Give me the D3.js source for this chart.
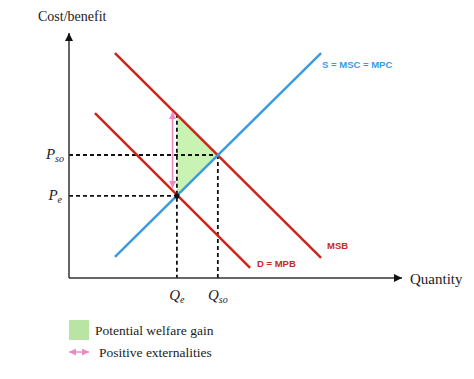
<!DOCTYPE html>
<html>
<head>
<meta charset="utf-8">
<script src="https://cdn.jsdelivr.net/npm/d3@7"></script>
<style>
  html, body { margin: 0; padding: 0; background: #fff; }
  svg { display: block; }
</style>
</head>
<body>
<svg id="chart" width="474" height="379"></svg>
<script>
// ---- Data (quantity / price in arbitrary units 0..100) ----
const supplyMSC = [[13.8, 8.6], [75.7, 91.8]];      // S = MSC = MPC
const demandMPB = [[7.8, 67.3], [54.4, 4.1]];       // D = MPB
const benefitMSB = [[13.8, 91.8], [75.7, 8.2]];     // MSB
const equilibrium = { q: 32.4, p: 33.5 };           // Qe, Pe
const socialOptimum = { q: 44.7, p: 50.2 };         // Qso, Pso
const msbAtQe = 67.0;
const externalityArrow = { q: 31.1, from: 67.8, to: 36.7 };
const curveLabels = ["S = MSC = MPC", "MSB", "D = MPB"];
const axisLabels = ["Cost/benefit", "Quantity"];
const legendLabels = ["Potential welfare gain", "Positive externalities"];

// ---- Layout ----
const svg = d3.select("#chart");
const x = d3.scaleLinear().domain([0, 100]).range([69, 402]);
const y = d3.scaleLinear().domain([0, 100]).range([278, 33]);

const RED = "#cc2519", BLUE = "#3a9be2", PINK = "#ee88c2", GREEN = "#c9f3b2", AXIS = "#333";
const serif = "'Liberation Serif', 'Times New Roman', serif";
const sans = "'Liberation Sans', Arial, sans-serif";

const defs = svg.append("defs");
function marker(id, color, size) {
  defs.append("marker").attr("id", id)
    .attr("viewBox", "0 0 10 10").attr("refX", 10).attr("refY", 5)
    .attr("markerWidth", size).attr("markerHeight", size)
    .attr("markerUnits", "userSpaceOnUse")
    .attr("orient", "auto-start-reverse")
    .append("path").attr("d", "M0,0 L10,5 L0,10 Z").attr("fill", color);
}
marker("axArrow", "#111", 8);
marker("pinkArrow", PINK, 7);

const line = d3.line().x(d => x(d[0])).y(d => y(d[1]));

// Welfare gain triangle
svg.append("path")
  .attr("d", line([[equilibrium.q, equilibrium.p], [equilibrium.q, msbAtQe], [socialOptimum.q, socialOptimum.p]]) + "Z")
  .attr("fill", GREEN);

// Dashed guides
const dash = svg.append("g").attr("stroke", "#111").attr("stroke-width", 1.8)
  .attr("stroke-dasharray", "4,3").attr("fill", "none");
dash.append("path").attr("d", line([[0, socialOptimum.p], [socialOptimum.q, socialOptimum.p]]));
dash.append("path").attr("d", line([[0, equilibrium.p], [equilibrium.q, equilibrium.p]]));
dash.append("path").attr("d", line([[equilibrium.q, msbAtQe], [equilibrium.q, 0]]));
dash.append("path").attr("d", line([[socialOptimum.q, socialOptimum.p], [socialOptimum.q, 0]]));

// Axes
svg.append("line").attr("x1", x(0)).attr("y1", y(0)).attr("x2", x(0)).attr("y2", y(100))
  .attr("stroke", AXIS).attr("stroke-width", 1.5).attr("marker-end", "url(#axArrow)");
svg.append("line").attr("x1", x(0)).attr("y1", y(0)).attr("x2", x(100)).attr("y2", y(0))
  .attr("stroke", AXIS).attr("stroke-width", 1.5).attr("marker-end", "url(#axArrow)");

// Curves
svg.append("path").attr("d", line(demandMPB)).attr("stroke", RED).attr("stroke-width", 2.5).attr("fill", "none");
svg.append("path").attr("d", line(benefitMSB)).attr("stroke", RED).attr("stroke-width", 2.5).attr("fill", "none");
svg.append("path").attr("d", line(supplyMSC)).attr("stroke", BLUE).attr("stroke-width", 2.5).attr("fill", "none");

// Externality arrow
svg.append("line")
  .attr("x1", x(externalityArrow.q)).attr("y1", y(externalityArrow.to))
  .attr("x2", x(externalityArrow.q)).attr("y2", y(externalityArrow.from))
  .attr("stroke", PINK).attr("stroke-width", 1.6)
  .attr("marker-start", "url(#pinkArrow)").attr("marker-end", "url(#pinkArrow)");

// Equilibrium dot
svg.append("circle").attr("cx", x(equilibrium.q)).attr("cy", y(equilibrium.p)).attr("r", 2.6).attr("fill", "#111");

// Curve labels
svg.append("text").attr("x", x(supplyMSC[1][0]) + 1).attr("y", 68).text(curveLabels[0])
  .attr("fill", BLUE).attr("font-family", sans).attr("font-weight", "bold").attr("font-size", 9.5);
svg.append("text").attr("x", 327).attr("y", 248.5).text(curveLabels[1])
  .attr("fill", RED).attr("font-family", sans).attr("font-weight", "bold").attr("font-size", 9.5);
svg.append("text").attr("x", 257).attr("y", 266.5).text(curveLabels[2])
  .attr("fill", RED).attr("font-family", sans).attr("font-weight", "bold").attr("font-size", 9.5);

// Axis titles
svg.append("text").attr("x", 38).attr("y", 21).text(axisLabels[0])
  .attr("font-family", serif).attr("font-size", 14).attr("fill", "#222");
svg.append("text").attr("x", 410).attr("y", 284).text(axisLabels[1])
  .attr("font-family", serif).attr("font-size", 15).attr("fill", "#222");

// P and Q labels
function subLabel(px, py, main, sub, anchor) {
  const t = svg.append("text").attr("x", px).attr("y", py).attr("text-anchor", anchor)
    .attr("font-family", serif).attr("font-style", "italic").attr("fill", "#222");
  t.append("tspan").attr("font-size", 15).text(main);
  t.append("tspan").attr("font-size", 10).attr("dy", 3).text(sub);
}
subLabel(64, y(socialOptimum.p) + 4, "P", "so", "end");
subLabel(62, y(equilibrium.p) + 4, "P", "e", "end");
subLabel(x(equilibrium.q), 300, "Q", "e", "middle");
subLabel(x(socialOptimum.q), 300, "Q", "so", "middle");

// Legend
svg.append("rect").attr("x", 69).attr("y", 320).attr("width", 20).attr("height", 20).attr("fill", "#b9e4a4");
svg.append("text").attr("x", 95).attr("y", 335).text(legendLabels[0])
  .attr("font-family", serif).attr("font-size", 13.5).attr("fill", "#222");
svg.append("line").attr("x1", 69).attr("y1", 352).attr("x2", 89).attr("y2", 352)
  .attr("stroke", PINK).attr("stroke-width", 1.4)
  .attr("marker-start", "url(#pinkArrow)").attr("marker-end", "url(#pinkArrow)");
svg.append("text").attr("x", 99).attr("y", 357).text(legendLabels[1])
  .attr("font-family", serif).attr("font-size", 13.5).attr("fill", "#222");
</script>
</body>
</html>
